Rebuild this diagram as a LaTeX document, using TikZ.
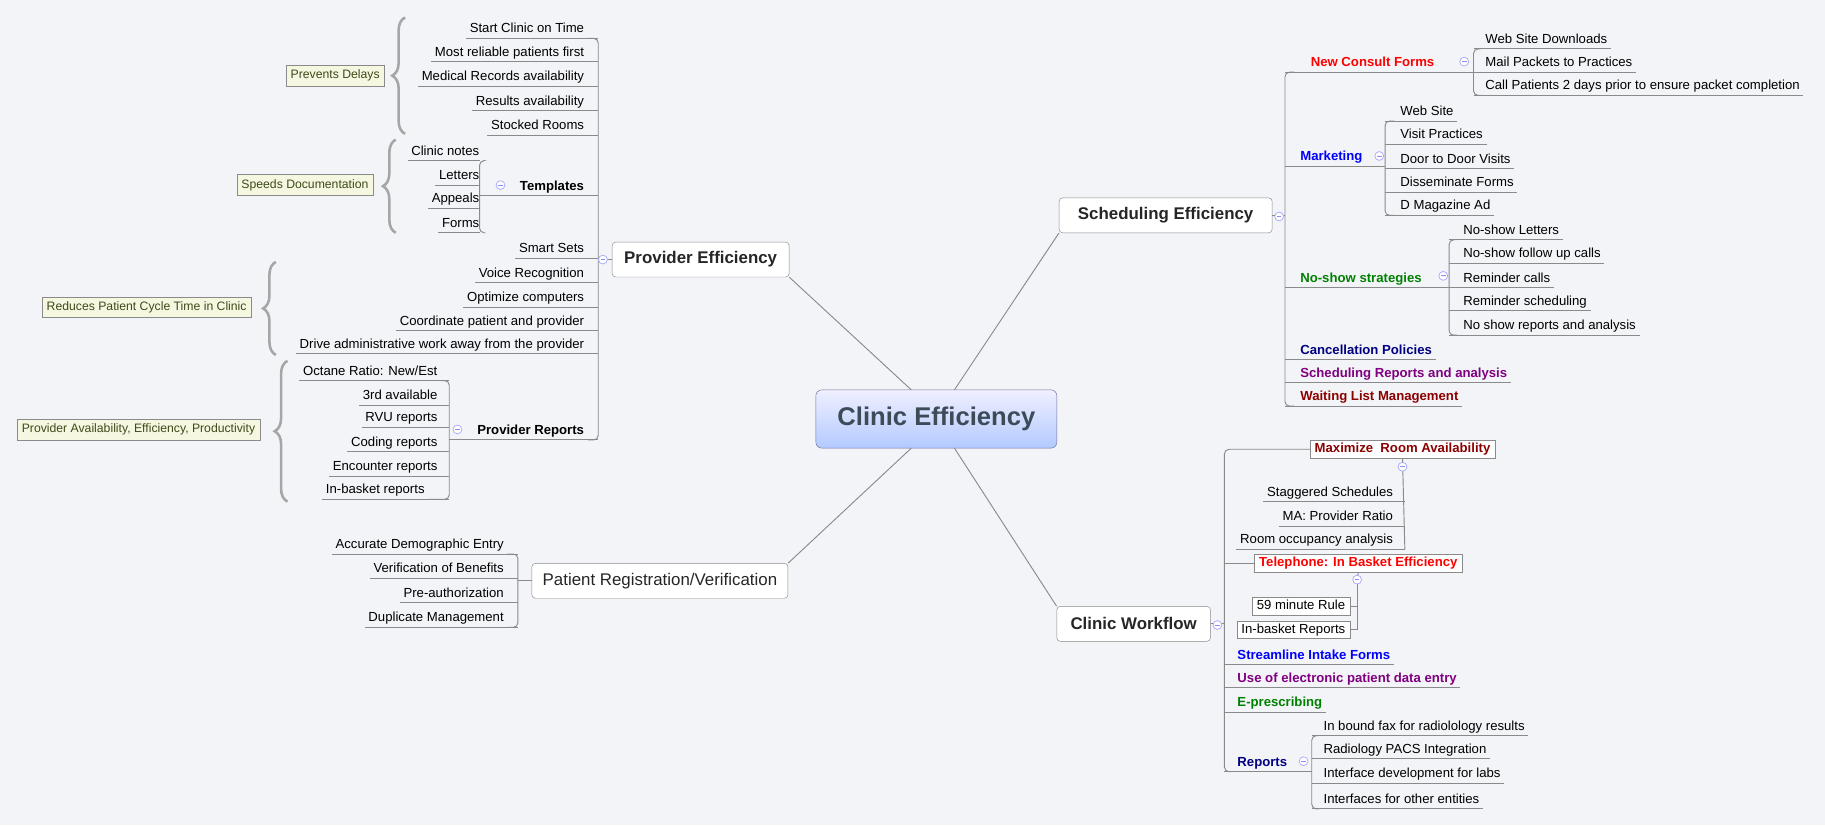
\documentclass[tikz,border=0pt]{standalone}
\usepackage{fontspec}
\setmainfont{Liberation Sans}
\usetikzlibrary{decorations.pathreplacing}
\definecolor{bg}{HTML}{F3F4F8}
\definecolor{ln}{HTML}{8A8A8A}
\definecolor{dred}{HTML}{8B0000}
\definecolor{navy}{HTML}{000080}
\definecolor{purp}{HTML}{800080}
\definecolor{grn}{HTML}{008000}
\definecolor{lblfill}{HTML}{F5F7E0}
\definecolor{lbltext}{HTML}{3E4A1A}
\definecolor{ttl}{HTML}{3D4A57}
\tikzset{
 x=1pt,y=-1pt,
 leaf/.style={inner xsep=3pt,inner ysep=2pt,text height=8.5pt,text depth=2.5pt,font=\fontsize{11.3}{13}\selectfont},
 bl/.style={leaf,font=\fontsize{11.3}{13}\selectfont\bfseries},
 ul/.style={draw=ln,line width=0.8pt},
 topic/.style={draw=ln,fill=white,rounded corners=3pt,inner xsep=5pt,minimum height=30pt,font=\fontsize{14.5}{16}\selectfont\bfseries,text=black!85},
 bx/.style={draw=ln,fill=white,inner xsep=4pt,inner ysep=2pt,text height=8.5pt,text depth=2.5pt,font=\fontsize{11.3}{13}\selectfont},
 lbl/.style={draw=ln,fill=lblfill,text=lbltext,inner sep=4pt,font=\fontsize{10.5}{12}\selectfont},
 brc/.style={draw=gray!70,line width=2.2pt,decorate,decoration={brace,amplitude=11pt}},
 cl/.style={draw=ln,line width=0.8pt}
}
\newcommand\lf[5]{\node[leaf,anchor=south east] (#1) at (#2,#3) {#4}; \draw[ul] (#1.south west) -- (#5,#3);}
\newcommand\rf[5]{\node[leaf,anchor=south west] (#1) at (#2,#3) {#4}; \draw[ul] (#5,#3) -- (#1.south east);}
\newcommand\rfb[6]{\node[bl,text=#6,anchor=south west] (#1) at (#2,#3) {#4}; \draw[ul] (#5,#3) -- (#1.south east);}
\newcommand\mcirc[2]{\draw[blue!35,fill=white,line width=0.6pt] (#1,#2) circle (3.8pt); \draw[blue!45,line width=0.6pt] (#1-2,#2) -- (#1+2,#2);}
\begin{document}
\begin{tikzpicture}
\fill[bg] (0,0) rectangle (1568,709);
\useasboundingbox (0,0) rectangle (1568,709);
% center
\node[draw=ln!80!blue,rounded corners=5pt,top color=blue!6,bottom color=cyan!30!blue!30,minimum width=207pt,minimum height=50pt,font=\fontsize{22}{26}\selectfont\bfseries,text=ttl] (C) at (804.5,360) {Clinic Efficiency};
\node[topic,minimum width=152pt] (PE) at (602,223) {Provider Efficiency};
\node[topic,minimum width=183pt] (SE) at (1001.5,185) {Scheduling Efficiency};
\node[topic,minimum width=220pt,font=\fontsize{14.5}{16}\selectfont] (PR) at (567,499) {Patient Registration/Verification};
\node[topic,minimum width=132pt] (CW) at (974,536) {Clinic Workflow};
\draw[cl] (783,335) -- (PE.south east);
\draw[cl] (820,335) -- (SE.south west);
\draw[cl] (783,385) -- (PR.north east);
\draw[cl] (820,385) -- (CW.north west);
% Provider efficiency leaves
\lf{a1}{505}{33}{Start Clinic on Time}{514}
\lf{a2}{505}{53}{Most reliable patients first}{514}
\lf{a3}{505}{74}{Medical Records availability}{514}
\lf{a4}{505}{95}{Results availability}{514}
\lf{a5}{505}{116}{Stocked Rooms}{514}
\node[bl,anchor=south east] (tpl) at (505,168) {Templates}; \draw[ul] (435,168) -- (514,168);
\lf{a6}{505}{222}{Smart Sets}{514}
\lf{a7}{505}{243}{Voice Recognition}{514}
\lf{a8}{505}{264}{Optimize computers}{514}
\lf{a9}{505}{284}{Coordinate patient and provider}{514}
\lf{a10}{505}{304}{Drive administrative work away from the provider}{514}
\node[bl,anchor=south east] (prp) at (505,378) {Provider Reports}; \draw[ul] (398,378) -- (514,378);
\draw[cl,rounded corners=4pt] (a1.south east) -- (514,33) -- (514,378) -- (prp.south east);
\draw[cl] (PE.west) -- (514,223);
\mcirc{518}{223}
% templates
\lf{t1}{415}{138}{Clinic notes}{412}
\lf{t2}{415}{159}{Letters}{412}
\lf{t3}{415}{179}{Appeals}{412}
\lf{t4}{415}{200}{Forms}{412}
\draw[cl,rounded corners=4pt] (t1.south east) -- (412,138) -- (412,200) -- (t4.south east);
\draw[cl] (412,168) -- (tpl.south west);
\mcirc{430}{159}
% provider reports
\lf{r1}{379}{327}{Octane Ratio: New/Est}{386}
\lf{r2}{379}{348}{3rd available}{386}
\lf{r3}{379}{367}{RVU reports}{386}
\lf{r4}{379}{388}{Coding reports}{386}
\lf{r5}{379}{409}{Encounter reports}{386}
\lf{r6}{368}{429}{In-basket reports}{386}
\draw[cl,rounded corners=4pt] (r1.south east) -- (386,327) -- (386,429) -- (r6.south east);
\draw[cl] (386,378) -- (prp.south west);
\mcirc{393}{369}
% braces and labels
\draw[brc] (348,115) -- (348,15);
\node[lbl] (L1) at (288,65) {Prevents Delays};
\draw[brc] (340,200) -- (340,120);
\node[lbl] (L2) at (262,159) {Speeds Documentation};
\draw[brc] (237,305) -- (237,225);
\node[lbl] (L3) at (126,264) {Reduces Patient Cycle Time in Clinic};
\draw[brc] (247,431) -- (247,310);
\node[lbl] (L4) at (119,369) {Provider Availability, Efficiency, Productivity};
% patient registration
\lf{p1}{436}{476}{Accurate Demographic Entry}{445}
\lf{p2}{436}{497}{Verification of Benefits}{445}
\lf{p3}{436}{518}{Pre-authorization}{445}
\lf{p4}{436}{539}{Duplicate Management}{445}
\draw[cl,rounded corners=4pt] (p1.south east) -- (445,476) -- (445,539) -- (p4.south east);
\draw[cl] (445,499) -- (PR.west);
% scheduling
\rfb{s1}{1123}{62}{New Consult Forms}{1104}{red}
\rfb{s2}{1114}{143}{Marketing}{1104}{blue}
\rfb{s3}{1114}{247}{No-show strategies}{1104}{grn}
\rfb{s4}{1114}{309}{Cancellation Policies}{1104}{navy}
\rfb{s5}{1114}{329}{Scheduling Reports and analysis}{1104}{purp}
\rfb{s6}{1114}{349}{Waiting List Management}{1104}{dred}
\draw[cl,rounded corners=4pt] (1112,62) -- (1104,62) -- (1104,349) -- (1112,349);
\draw[cl] (SE.east) -- (1104,185);
\mcirc{1099}{186}
% new consult
\rf{n1}{1273}{42}{Web Site Downloads}{1266}
\rf{n2}{1273}{62}{Mail Packets to Practices}{1266}
\rf{n3}{1273}{82}{Call Patients 2 days prior to ensure packet completion}{1266}
\draw[cl,rounded corners=4pt] (1272,42) -- (1266,42) -- (1266,82) -- (1272,82);
\draw[cl] (s1.south east) -- (1266,62);
\mcirc{1258}{53}
% marketing
\rf{m1}{1200}{104}{Web Site}{1190}
\rf{m2}{1200}{124}{Visit Practices}{1190}
\rf{m3}{1200}{145}{Door to Door Visits}{1190}
\rf{m4}{1200}{165}{Disseminate Forms}{1190}
\rf{m5}{1200}{185}{D Magazine Ad}{1190}
\draw[cl,rounded corners=4pt] (1198,104) -- (1190,104) -- (1190,185) -- (1198,185);
\draw[cl] (s2.south east) -- (1190,143);
\mcirc{1185}{134}
% no-show
\rf{q1}{1254}{206}{No-show Letters}{1245}
\rf{q2}{1254}{226}{No-show follow up calls}{1245}
\rf{q3}{1254}{247}{Reminder calls}{1245}
\rf{q4}{1254}{267}{Reminder scheduling}{1245}
\rf{q5}{1254}{288}{No show reports and analysis}{1245}
\draw[cl,rounded corners=4pt] (1252,206) -- (1245,206) -- (1245,288) -- (1252,288);
\draw[cl] (s3.south east) -- (1245,247);
\mcirc{1240}{237}
% clinic workflow
\node[bx,text=dred,font=\fontsize{11.3}{13}\selectfont\bfseries] (w1) at (1205,386) {Maximize\ \ Room Availability};
\node[bx,text=red,font=\fontsize{11.3}{13}\selectfont\bfseries] (w2) at (1167,484) {Telephone: In Basket Efficiency};
\rfb{w3}{1060}{571}{Streamline Intake Forms}{1052}{blue}
\rfb{w4}{1060}{591}{Use of electronic patient data entry}{1052}{purp}
\rfb{w5}{1060}{612}{E-prescribing}{1052}{grn}
\rfb{w6}{1060}{663}{Reports}{1052}{navy}
\draw[cl,rounded corners=4pt] (w1.west) -- (1052,386) -- (1052,663) -- (1058,663);
\draw[cl] (1052,484) -- (w2.west);
\draw[cl] (CW.east) -- (1052,536);
\mcirc{1046}{537}
% maximize children
\lf{x1}{1200}{431}{Staggered Schedules}{1207}
\lf{x2}{1200}{452}{MA: Provider Ratio}{1207}
\lf{x3}{1200}{472}{Room occupancy analysis}{1207}
\draw[cl] (w1.south) -- (1207,472);
\mcirc{1205}{401}
% telephone children
\node[bx,anchor=east] (y1) at (1160,521) {59 minute Rule};
\node[bx,anchor=east] (y2) at (1160,541) {In-basket Reports};
\draw[cl] (1166,498) -- (1166,541);
\draw[cl] (y1.east) -- (1166,521);
\draw[cl] (y2.east) -- (1166,541);
\draw[cl] (w2.south) -- (1166,498);
\mcirc{1166}{498}
% reports
\rf{z1}{1134}{632}{In bound fax for radiolology results}{1127}
\rf{z2}{1134}{652}{Radiology PACS Integration}{1127}
\rf{z3}{1134}{673}{Interface development for labs}{1127}
\rf{z4}{1134}{695}{Interfaces for other entities}{1127}
\draw[cl,rounded corners=4pt] (1133,632) -- (1127,632) -- (1127,695) -- (1133,695);
\draw[cl] (w6.south east) -- (1127,663);
\mcirc{1120}{654}
\end{tikzpicture}
\end{document}
